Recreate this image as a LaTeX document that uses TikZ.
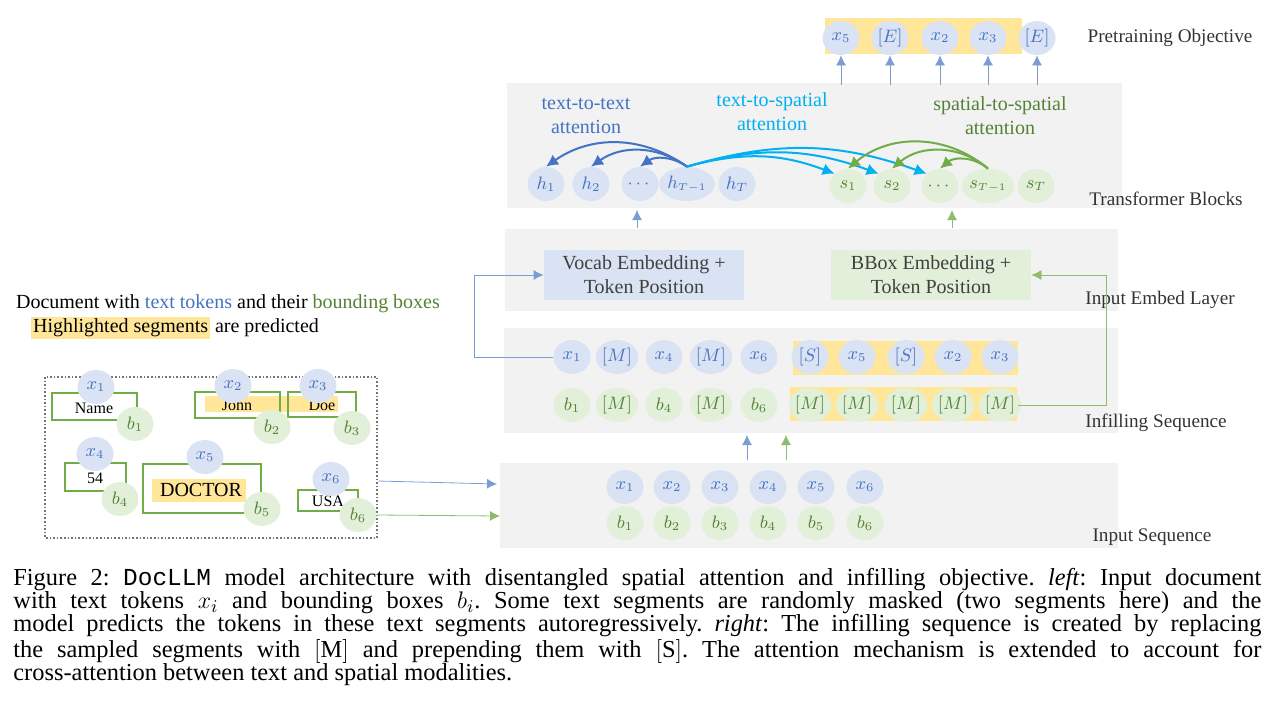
\documentclass[tikz,border=0pt]{standalone}
\usepackage{fontspec}
\setmainfont{Liberation Serif}
\setmonofont{Liberation Mono}
\usepackage{amsmath}
\usetikzlibrary{arrows.meta,shapes.geometric}

\definecolor{tokblue}{RGB}{218,227,243}
\definecolor{txtblue}{RGB}{68,114,196}
\definecolor{tokgreen}{RGB}{226,240,217}
\definecolor{txtgreen}{RGB}{84,130,53}
\definecolor{hlyellow}{RGB}{255,230,153}
\definecolor{panelgray}{RGB}{242,242,242}
\definecolor{attcyan}{RGB}{0,176,240}
\definecolor{boxgreen}{RGB}{112,173,71}

\tikzset{
  tokx/.style = {ellipse, fill=tokblue, text=txtblue, minimum width=18.5pt, minimum height=17pt, inner sep=0pt, font=\small},
  tokb/.style = {ellipse, fill=tokgreen, text=txtgreen, minimum width=18.5pt, minimum height=17pt, inner sep=0pt, font=\small},
  panel/.style = {fill=panelgray, draw=none},
  hl/.style = {fill=hlyellow, draw=none},
  side/.style = {font=\fontsize{9.6}{11}\selectfont, text=black!80},
  word/.style = {draw=boxgreen, line width=0.8pt, inner sep=0pt},
  arrb/.style = {txtblue!70, -{Latex[length=5pt,width=5pt]}},
  arrg/.style = {boxgreen!80, -{Latex[length=5pt,width=5pt]}},
  att/.style = {line width=1pt, -{Latex[length=6pt,width=6pt]}}
}

\begin{document}
\begin{tikzpicture}[x=0.5pt, y=-0.5pt]
\useasboundingbox (0,0) rectangle (1280,720);

% PANELS %%%%%%%%%%%%%%%%%%%%%%%%%%%%%%%%%%%%%%%%%%%%%%%%%%%%%%%%%%%%%%%%%%

\fill[panel] (507,83) rectangle (1122,208);
\fill[panel] (505,229) rectangle (1118,311);
\fill[panel] (504,328) rectangle (1118,433);
\fill[panel] (500,463) rectangle (1118,548);

\node[side] (lpo) at (1170,38) {Pretraining Objective};
\node[side] (ltb) at (1166,199) {Transformer Blocks};
\node[side] (lie) at (1160,300) {Input Embed Layer};
\node[side] (lis) at (1156,423) {Infilling Sequence};
\node[side] (lin) at (1152,537) {Input Sequence};

% PRETRAINING OBJECTIVE %%%%%%%%%%%%%%%%%%%%%%%%%%%%%%%%%%%%%%%%%%%%%%%%%%%

\fill[hl] (825,18) rectangle (1022,54);
\foreach \i/\t/\x in {1/x_5/841, 2/[E]/890, 3/x_2/940, 4/x_3/988, 5/[E]/1037} {
  \node[tokx] (po\i) at (\x,38) {$\t$};
  \coordinate (pb\i) at (\x,85);
  \draw[arrb] (pb\i) -- (po\i);
}

% TRANSFORMER BLOCKS %%%%%%%%%%%%%%%%%%%%%%%%%%%%%%%%%%%%%%%%%%%%%%%%%%%%%%

\node[tokx] (h1) at (546,184) {$h_1$};
\node[tokx] (h2) at (591,184) {$h_2$};
\node[tokx] (hd) at (640,184) {$\cdots$};
\node[tokx, minimum width=19pt] (hTm) at (687,184) {$h_{\scriptscriptstyle T-1}$};
\node[tokx] (hT) at (737,184) {$h_T$};
\node[tokb] (s1) at (848,186) {$s_1$};
\node[tokb] (s2) at (892,186) {$s_2$};
\node[tokb] (sd) at (940,186) {$\cdots$};
\node[tokb, minimum width=19pt] (sTm) at (988,186) {$s_{\scriptscriptstyle T-1}$};
\node[tokb] (sT) at (1036,186) {$s_T$};

\node[text=txtblue, align=center] (ltt) at (586,116) {text-to-text\\attention};
\node[text=attcyan, align=center] (lts) at (772,112) {text-to-spatial\\attention};
\node[text=txtgreen, align=center] (lss) at (1000,116) {spatial-to-spatial\\attention};

\draw[att, txtblue] (hTm.north) to[bend right=35] (h1.north);
\draw[att, txtblue] (hTm.north) to[bend right=35] (h2.north);
\draw[att, txtblue] (hTm.north) to[bend right=35] (hd.north);
\draw[att, attcyan] (hTm.north) to[bend left=18] (s1.north west);
\draw[att, attcyan] (hTm.north) to[bend left=18] (s2.north west);
\draw[att, attcyan] (hTm.north) to[bend left=18] (sd.north west);
\draw[att, boxgreen] (sTm.north) to[bend right=40] (s1.north);
\draw[att, boxgreen] (sTm.north) to[bend right=40] (s2.north);
\draw[att, boxgreen] (sTm.north) to[bend right=40] (sd.north);

\coordinate (upb) at (637,228);
\coordinate (upbe) at (637,210);
\coordinate (upg) at (952,228);
\coordinate (upge) at (952,210);
\draw[arrb] (upb) -- (upbe);
\draw[arrg] (upg) -- (upge);

% INPUT EMBED %%%%%%%%%%%%%%%%%%%%%%%%%%%%%%%%%%%%%%%%%%%%%%%%%%%%%%%%%%%%%

\node[fill=tokblue, text=black!75, align=center, minimum width=100pt, minimum height=25pt, inner sep=1pt] (vocab) at (644,275) {Vocab Embedding +\\Token Position};
\node[fill=tokgreen, text=black!75, align=center, minimum width=100pt, minimum height=25pt, inner sep=1pt] (bbox) at (931,275) {BBox Embedding +\\Token Position};

% INFILLING SEQUENCE %%%%%%%%%%%%%%%%%%%%%%%%%%%%%%%%%%%%%%%%%%%%%%%%%%%%%%

\fill[hl] (793,341) rectangle (1018,375);
\fill[hl] (790,387) rectangle (1017,421);
\foreach \i/\t/\u/\x in {1/x_1/b_1/572, 2/[M]/[M]/617, 3/x_4/b_4/664, 4/[M]/[M]/711, 5/x_6/b_6/759,
                        6/[S]/[M]/810, 7/x_5/[M]/857, 8/[S]/[M]/906, 9/x_2/[M]/953, 10/x_3/[M]/1000} {
  \node[tokx] (fx\i) at (\x,357) {$\t$};
  \node[tokb] (fb\i) at (\x,405) {$\u$};
}
\draw[txtblue!70, -{Latex[length=5pt,width=5pt]}] (fx1.west) -- (474,357) |- (vocab.west);
\draw[boxgreen!80, -{Latex[length=5pt,width=5pt]}] (1018,405) -- (1106,405) |- (bbox.east);

\coordinate (ub) at (747,460);
\coordinate (ube) at (747,435);
\coordinate (ug) at (786,460);
\coordinate (uge) at (786,435);
\draw[arrb] (ub) -- (ube);
\draw[arrg] (ug) -- (uge);

% INPUT SEQUENCE %%%%%%%%%%%%%%%%%%%%%%%%%%%%%%%%%%%%%%%%%%%%%%%%%%%%%%%%%%

\foreach \i/\x in {1/625, 2/672, 3/720, 4/768, 5/816, 6/865} {
  \node[tokx] (ix\i) at (\x,487) {$x_\i$};
  \node[tokb] (ib\i) at (\x,523) {$b_\i$};
}

% DOCUMENT %%%%%%%%%%%%%%%%%%%%%%%%%%%%%%%%%%%%%%%%%%%%%%%%%%%%%%%%%%%%%%%%

\node (dtitle) at (228,304) {Document with \textcolor{txtblue}{text tokens} and their \textcolor{txtgreen}{bounding boxes}};
\node[inner sep=0pt] (dsub) at (175,328) {\setlength{\fboxsep}{1pt}\colorbox{hlyellow}{Highlighted segments} are predicted};

\draw[black!55, densely dotted, line width=0.8pt] (45,377) rectangle (377,538);
\coordinate (docb) at (378,481);
\coordinate (docg) at (378,515);
\coordinate (seqb) at (497,484);
\coordinate (seqg) at (500,516);
\draw[arrb] (docb) -- (seqb);
\draw[arrg] (docg) -- (seqg);

\fill[hl] (205,396) rectangle (338,412);
\fill[hl] (152,479) rectangle (246,502);
\draw[word] (52,393) rectangle (137,420);
\draw[word] (195,392) rectangle (280,418);
\draw[word] (288,392) rectangle (356,417);
\draw[word] (65,463) rectangle (126,491);
\draw[word] (143,464) rectangle (261,513);
\draw[word] (298,490) rectangle (358,511);
\node[font=\footnotesize] (wname) at (94,408) {Name};
\node[font=\footnotesize] (wjohn) at (237,405) {John};
\node[font=\footnotesize] (wdoe) at (322,405) {Doe};
\node[font=\footnotesize] (w54) at (95,478) {54};
\node (wdoc) at (201,490) {DOCTOR};
\node[font=\footnotesize] (wusa) at (328,501) {USA};

\foreach \i/\x/\y/\u/\v in {1/96/387/135/424, 2/233/386/272/427, 3/318/386/352/428,
                           4/95/454/120/499, 5/205/457/262/509, 6/331/479/358/515} {
  \node[tokx] (dx\i) at (\x,\y) {$x_\i$};
  \node[tokb] (db\i) at (\u,\v) {$b_\i$};
}

% CAPTION %%%%%%%%%%%%%%%%%%%%%%%%%%%%%%%%%%%%%%%%%%%%%%%%%%%%%%%%%%%%%%%%%

\node[anchor=north west, text width=624pt, align=justify, inner sep=0pt, font=\fontsize{12.2}{11.6}\selectfont\frenchspacing] (cap) at (13,568)
{Figure 2: \texttt{DocLLM} model architecture with disentangled spatial attention and infilling objective. \textit{left}: Input document\linebreak
with text tokens $x_i$ and bounding boxes $b_i$. Some text segments are randomly masked (two segments here) and the\linebreak
model predicts the tokens in these text segments autoregressively. \textit{right}: The infilling sequence is created by replacing\linebreak
the sampled segments with $[\mathrm{M}]$ and prepending them with $[\mathrm{S}]$. The attention mechanism is extended to account for\linebreak
cross-attention between text and spatial modalities.};

\end{tikzpicture}
\end{document}
